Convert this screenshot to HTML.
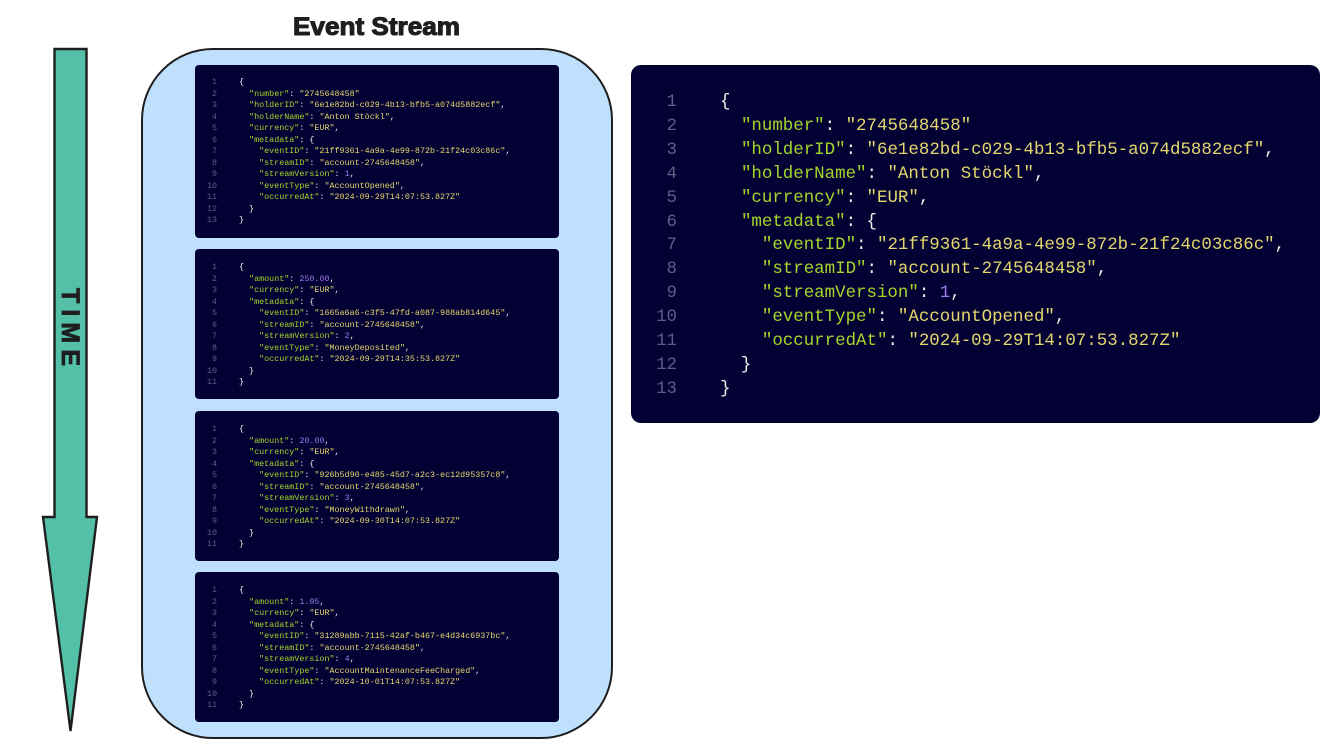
<!DOCTYPE html>
<html>
<head>
<meta charset="utf-8">
<style>
html,body{margin:0;padding:0;background:#fff;width:1333px;height:750px;overflow:hidden}
.a{position:absolute}
.outer{left:141px;top:48px;width:468px;height:687px;background:#bfe0fc;border:2px solid #1e1e1e;border-radius:72px}
.p{position:absolute;background:#030033;border-radius:4px}
.big{border-radius:10px}
pre{position:absolute;margin:0;font-family:"Liberation Mono",monospace;color:#f0f0e8}
.s{font-size:8.4px;line-height:11.5px}
.l{font-size:17.45px;line-height:23.9px}
.n{color:#5f5f85;text-align:right}
pre b{font-weight:normal;color:#a3d62c}
pre u{text-decoration:none;color:#e3d76e}
pre s{text-decoration:none;color:#9d7cf0}
svg{position:absolute;left:0;top:0}
</style>
</head>
<body>
<svg width="1333" height="750" viewBox="0 0 1333 750">
<polygon points="54.5,49 86.5,49 86.5,517 97,517 70.5,731 43,517 54.5,517" fill="#55c0a8" stroke="#1e1e1e" stroke-width="2.4"/>
<text x="293" y="35" font-family="Liberation Sans, sans-serif" font-weight="bold" font-size="25" fill="#1e1e1e" stroke="#1e1e1e" stroke-width="1.1" textLength="167" lengthAdjust="spacingAndGlyphs">Event Stream</text>
<text transform="translate(62,288) rotate(90)" font-family="Liberation Sans, sans-serif" font-weight="bold" font-size="25" fill="#1e1e1e" stroke="#1e1e1e" stroke-width="0.8" textLength="78" lengthAdjust="spacing">TIME</text>
</svg>
<div class="a outer"></div>

<div class="p" style="left:195px;top:65px;width:364px;height:173px"></div>
<pre class="s n" style="left:197px;top:77px;width:20px">1
2
3
4
5
6
7
8
9
10
11
12
13</pre>
<pre class="s" style="left:239px;top:77px">{
  <b>"number"</b>: <u>"2745648458"</u>
  <b>"holderID"</b>: <u>"6e1e82bd-c029-4b13-bfb5-a074d5882ecf"</u>,
  <b>"holderName"</b>: <u>"Anton Stöckl"</u>,
  <b>"currency"</b>: <u>"EUR"</u>,
  <b>"metadata"</b>: {
    <b>"eventID"</b>: <u>"21ff9361-4a9a-4e99-872b-21f24c03c86c"</u>,
    <b>"streamID"</b>: <u>"account-2745648458"</u>,
    <b>"streamVersion"</b>: <s>1</s>,
    <b>"eventType"</b>: <u>"AccountOpened"</u>,
    <b>"occurredAt"</b>: <u>"2024-09-29T14:07:53.827Z"</u>
  }
}</pre>

<div class="p" style="left:195px;top:249px;width:364px;height:150px"></div>
<pre class="s n" style="left:197px;top:262px;width:20px">1
2
3
4
5
6
7
8
9
10
11</pre>
<pre class="s" style="left:239px;top:262px">{
  <b>"amount"</b>: <s>250.00</s>,
  <b>"currency"</b>: <u>"EUR"</u>,
  <b>"metadata"</b>: {
    <b>"eventID"</b>: <u>"1665a6a6-c3f5-47fd-a087-988ab814d645"</u>,
    <b>"streamID"</b>: <u>"account-2745648458"</u>,
    <b>"streamVersion"</b>: <s>2</s>,
    <b>"eventType"</b>: <u>"MoneyDeposited"</u>,
    <b>"occurredAt"</b>: <u>"2024-09-29T14:35:53.827Z"</u>
  }
}</pre>

<div class="p" style="left:195px;top:411px;width:364px;height:150px"></div>
<pre class="s n" style="left:197px;top:424px;width:20px">1
2
3
4
5
6
7
8
9
10
11</pre>
<pre class="s" style="left:239px;top:424px">{
  <b>"amount"</b>: <s>20.00</s>,
  <b>"currency"</b>: <u>"EUR"</u>,
  <b>"metadata"</b>: {
    <b>"eventID"</b>: <u>"926b5d90-e485-45d7-a2c3-ec12d95357c8"</u>,
    <b>"streamID"</b>: <u>"account-2745648458"</u>,
    <b>"streamVersion"</b>: <s>3</s>,
    <b>"eventType"</b>: <u>"MoneyWithdrawn"</u>,
    <b>"occurredAt"</b>: <u>"2024-09-30T14:07:53.827Z"</u>
  }
}</pre>

<div class="p" style="left:195px;top:572px;width:364px;height:150px"></div>
<pre class="s n" style="left:197px;top:585px;width:20px">1
2
3
4
5
6
7
8
9
10
11</pre>
<pre class="s" style="left:239px;top:585px">{
  <b>"amount"</b>: <s>1.95</s>,
  <b>"currency"</b>: <u>"EUR"</u>,
  <b>"metadata"</b>: {
    <b>"eventID"</b>: <u>"31289abb-7115-42af-b467-e4d34c6937bc"</u>,
    <b>"streamID"</b>: <u>"account-2745648458"</u>,
    <b>"streamVersion"</b>: <s>4</s>,
    <b>"eventType"</b>: <u>"AccountMaintenanceFeeCharged"</u>,
    <b>"occurredAt"</b>: <u>"2024-10-01T14:07:53.827Z"</u>
  }
}</pre>

<div class="p big" style="left:631px;top:65px;width:689px;height:358px"></div>
<pre class="l n" style="left:637px;top:91px;width:40px">1
2
3
4
5
6
7
8
9
10
11
12
13</pre>
<pre class="l" style="left:720px;top:91px">{
  <b>"number"</b>: <u>"2745648458"</u>
  <b>"holderID"</b>: <u>"6e1e82bd-c029-4b13-bfb5-a074d5882ecf"</u>,
  <b>"holderName"</b>: <u>"Anton Stöckl"</u>,
  <b>"currency"</b>: <u>"EUR"</u>,
  <b>"metadata"</b>: {
    <b>"eventID"</b>: <u>"21ff9361-4a9a-4e99-872b-21f24c03c86c"</u>,
    <b>"streamID"</b>: <u>"account-2745648458"</u>,
    <b>"streamVersion"</b>: <s>1</s>,
    <b>"eventType"</b>: <u>"AccountOpened"</u>,
    <b>"occurredAt"</b>: <u>"2024-09-29T14:07:53.827Z"</u>
  }
}</pre>
</body>
</html>
